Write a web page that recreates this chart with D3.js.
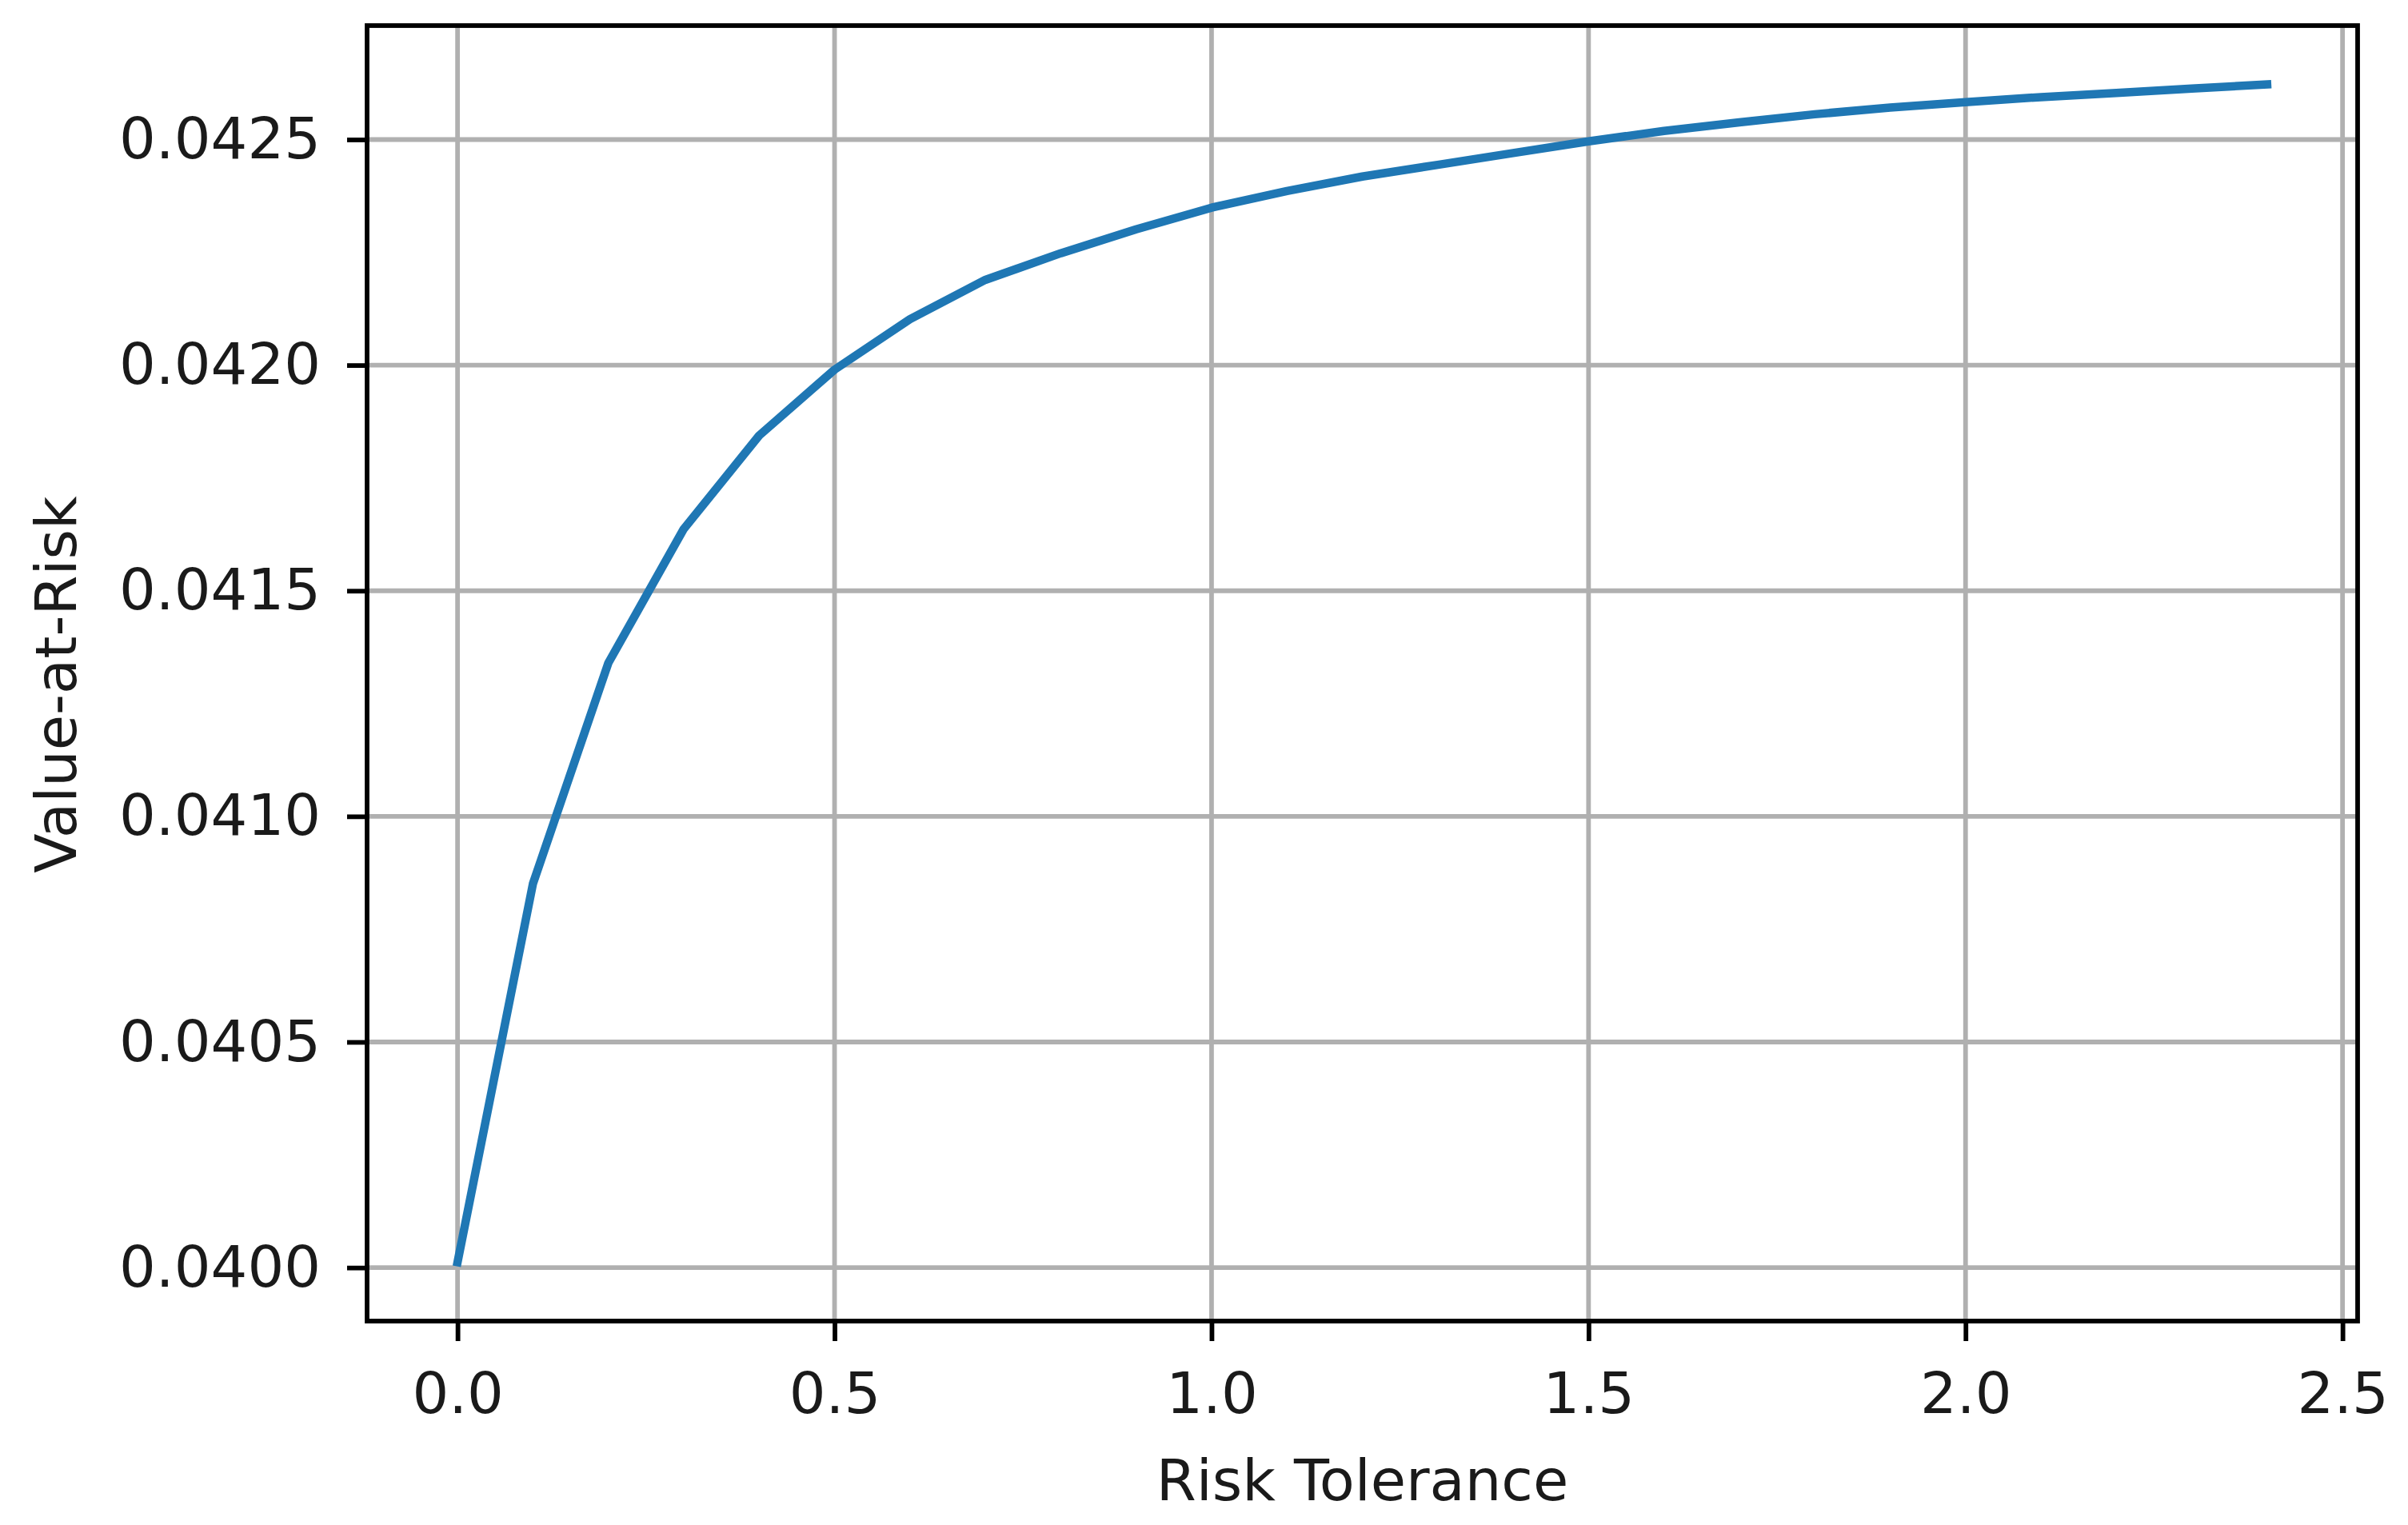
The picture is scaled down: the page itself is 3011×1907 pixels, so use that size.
<!DOCTYPE html>
<html>
<head>
<meta charset="utf-8">
<script src="https://cdn.jsdelivr.net/npm/d3@7"></script>
<style>
  body { margin: 0; background: #fff; }
  text { font-family: "DejaVu Sans", sans-serif; fill: #1a1a1a; }
</style>
</head>
<body>
<div id="chart-area"></div>
<script>
'use strict';

// risk tolerance (x) against value-at-risk (y)
const tolerance = [0.0, 0.1, 0.2, 0.3, 0.4, 0.5, 0.6, 0.7, 0.8, 0.9, 1.0, 1.1, 1.2,
    1.3, 1.4, 1.5, 1.6, 1.7, 1.8, 1.9, 2.0, 2.1, 2.2, 2.3, 2.4];
const valueAtRisk = [0.040012, 0.040851, 0.041340, 0.041637, 0.041844, 0.041990,
    0.042102, 0.042189, 0.042248, 0.042301, 0.042349, 0.042386, 0.042418,
    0.042444, 0.042470, 0.042496, 0.042519, 0.042538, 0.042556, 0.042571,
    0.042583, 0.042594, 0.042603, 0.042613, 0.042622];

const xTicks = [0.0, 0.5, 1.0, 1.5, 2.0, 2.5];
const xTickLabels = ['0.0', '0.5', '1.0', '1.5', '2.0', '2.5'];
const yTicks = [0.0400, 0.0405, 0.0410, 0.0415, 0.0420, 0.0425];
const yTickLabels = ['0.0400', '0.0405', '0.0410', '0.0415', '0.0420', '0.0425'];

const xTitle = 'Risk Tolerance';
const yTitle = 'Value-at-Risk';

draw();

// matplotlib style auto limits: 5% margin on each side
function padded(values) {
    let [lo, hi] = d3.extent(values);
    let m = (hi - lo) * 0.05;
    return [lo - m, hi + m];
}

function draw() {
    let W = 3011, H = 1907;
    let margin = {top: 32, right: 63, bottom: 255, left: 459};
    let width = W - margin.left - margin.right;
    let height = H - margin.top - margin.bottom;

    let svg = d3.select('#chart-area').append('svg')
        .attr('width', W)
        .attr('height', H)
        .style('display', 'block');

    svg.append('rect')
        .attr('width', W)
        .attr('height', H)
        .attr('fill', '#fff');

    let g = svg.append('g')
        .attr('transform', `translate(${margin.left},${margin.top})`);

    let x = d3.scaleLinear()
        .domain(padded(tolerance))
        .range([0, width]);

    let y = d3.scaleLinear()
        .domain(padded(valueAtRisk))
        .range([height, 0]);

    // grid
    g.append('g').selectAll('line')
        .data(xTicks)
        .enter()
        .append('line')
            .attr('x1', d => x(d))
            .attr('x2', d => x(d))
            .attr('y1', 0)
            .attr('y2', height)
            .attr('stroke', '#b0b0b0')
            .attr('stroke-width', 5.8);

    g.append('g').selectAll('line')
        .data(yTicks)
        .enter()
        .append('line')
            .attr('x1', 0)
            .attr('x2', width)
            .attr('y1', d => y(d))
            .attr('y2', d => y(d))
            .attr('stroke', '#b0b0b0')
            .attr('stroke-width', 5.8);

    // the curve
    let line = d3.line()
        .x((d, i) => x(tolerance[i]))
        .y(d => y(d));

    g.append('path')
        .datum(valueAtRisk)
        .attr('d', line)
        .attr('fill', 'none')
        .attr('stroke', '#1f77b4')
        .attr('stroke-width', 10.5)
        .attr('stroke-linecap', 'square')
        .attr('stroke-linejoin', 'round');

    // axes
    let xAxis = g.append('g')
        .attr('transform', `translate(0,${height})`)
        .call(d3.axisBottom(x)
            .tickValues(xTicks)
            .tickFormat((d, i) => xTickLabels[i])
            .tickSize(25)
            .tickSizeOuter(0)
            .tickPadding(39));

    let yAxis = g.append('g')
        .call(d3.axisLeft(y)
            .tickValues(yTicks)
            .tickFormat((d, i) => yTickLabels[i])
            .tickSize(25)
            .tickSizeOuter(0)
            .tickPadding(33));

    [xAxis, yAxis].forEach(a => {
        a.select('.domain').remove();
        a.selectAll('.tick line')
            .attr('stroke', '#000')
            .attr('stroke-width', 5.8);
        a.selectAll('.tick text')
            .attr('font-size', 72)
            .attr('font-family', '"DejaVu Sans", sans-serif')
            .attr('fill', '#1a1a1a');
    });

    // frame
    g.append('rect')
        .attr('width', width)
        .attr('height', height)
        .attr('fill', 'none')
        .attr('stroke', '#000')
        .attr('stroke-width', 5.8);

    // titles
    svg.append('text')
        .attr('x', margin.left + width / 2)
        .attr('y', 1876)
        .attr('text-anchor', 'middle')
        .attr('font-size', 72)
        .text(xTitle);

    svg.append('text')
        .attr('transform', `translate(95,${margin.top + height / 2 + 14}) rotate(-90)`)
        .attr('text-anchor', 'middle')
        .attr('font-size', 72)
        .text(yTitle);
}
</script>
</body>
</html>
